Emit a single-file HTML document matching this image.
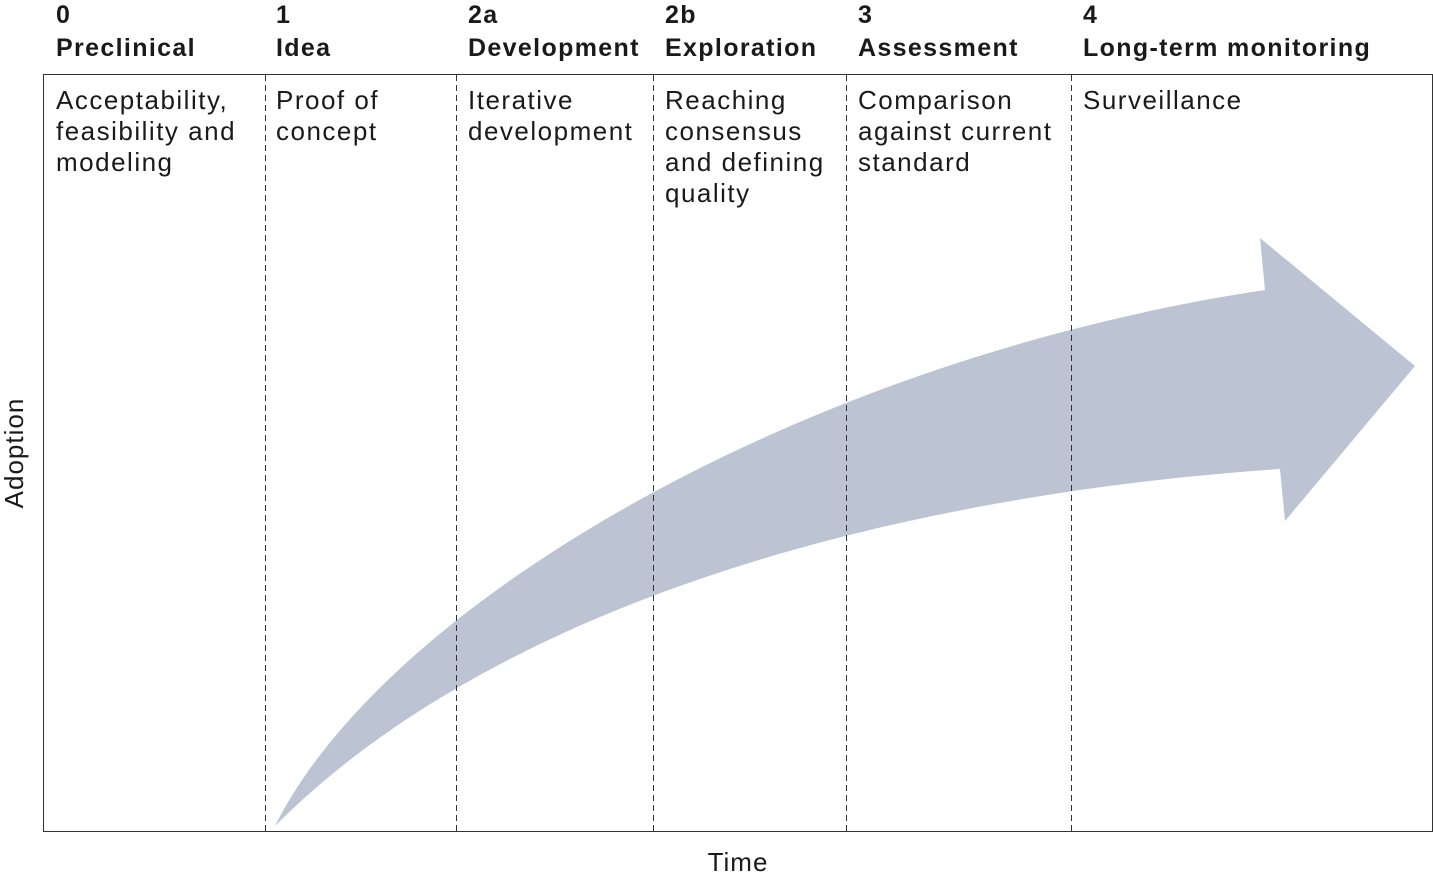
<!DOCTYPE html>
<html><head><meta charset="utf-8"><style>
html,body{margin:0;padding:0;background:#fff;}
svg{display:block;font-family:"Liberation Sans",sans-serif;}
.h{font-weight:bold;font-size:25px;fill:#1a1a1a;letter-spacing:1.35px;}
.b{font-size:26px;fill:#1a1a1a;letter-spacing:1.5px;}
.a{font-size:26px;fill:#1a1a1a;letter-spacing:1px;}
</style></head><body>
<svg width="1433" height="879" viewBox="0 0 1433 879">
<rect x="43.5" y="74.5" width="1389" height="757" fill="none" stroke="#333" stroke-width="1"/>
<path d="M275,826 C385,605 800,360 1265,290 L1260,238 L1415,366 L1285,521 L1280,469 C900,495 500,600 275,826 Z" fill="#bcc4d3"/>
<g stroke="#333" stroke-width="1" stroke-dasharray="6,4">
<line x1="265.5" y1="75" x2="265.5" y2="831"/>
<line x1="456.5" y1="75" x2="456.5" y2="831"/>
<line x1="653.5" y1="75" x2="653.5" y2="831"/>
<line x1="846.5" y1="75" x2="846.5" y2="831"/>
<line x1="1071.5" y1="75" x2="1071.5" y2="831"/>
</g>
<g>
<text class="h" x="56" y="23">0</text>
<text class="h" x="56" y="56">Preclinical</text>
<text class="h" x="276" y="23">1</text>
<text class="h" x="276" y="56">Idea</text>
<text class="h" x="468" y="23">2a</text>
<text class="h" x="468" y="56">Development</text>
<text class="h" x="665" y="23">2b</text>
<text class="h" x="665" y="56">Exploration</text>
<text class="h" x="858" y="23">3</text>
<text class="h" x="858" y="56">Assessment</text>
<text class="h" x="1083" y="23">4</text>
<text class="h" x="1083" y="56">Long-term monitoring</text>
</g>
<g>
<text class="b" x="56" y="109"><tspan x="56">Acceptability,</tspan><tspan x="56" dy="31">feasibility and</tspan><tspan x="56" dy="31">modeling</tspan></text>
<text class="b" x="276" y="109"><tspan x="276">Proof of</tspan><tspan x="276" dy="31">concept</tspan></text>
<text class="b" x="468" y="109"><tspan x="468">Iterative</tspan><tspan x="468" dy="31">development</tspan></text>
<text class="b" x="665" y="109"><tspan x="665">Reaching</tspan><tspan x="665" dy="31">consensus</tspan><tspan x="665" dy="31">and defining</tspan><tspan x="665" dy="31">quality</tspan></text>
<text class="b" x="858" y="109"><tspan x="858">Comparison</tspan><tspan x="858" dy="31">against current</tspan><tspan x="858" dy="31">standard</tspan></text>
<text class="b" x="1083" y="109">Surveillance</text>
</g>
<text class="a" x="738" y="871" text-anchor="middle">Time</text>
<text class="a" transform="translate(23,453) rotate(-90)" text-anchor="middle">Adoption</text>
</svg>
</body></html>
